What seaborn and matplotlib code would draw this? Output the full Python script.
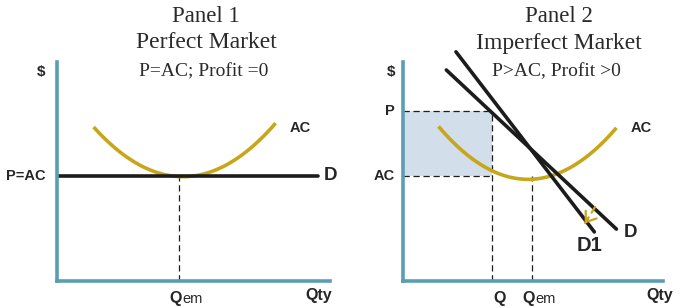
import seaborn as sns
import matplotlib.pyplot as plt
import matplotlib

matplotlib.use('Agg')
sns.set_theme(style='white')
plt.rcParams['font.family'] = ['Liberation Sans', 'DejaVu Sans']

# panel 1: perfect market (x = quantity, y = $)
p1_ac_q = [1.34, 2.4, 4.46, 6.5, 8.0]
p1_ac_cost = [7.17, 5.55, 4.88, 5.55, 7.17]
p1_d_q = [0.0, 9.55]
p1_d_price = [4.8, 4.8]
p1_qem = 4.46

# panel 2: imperfect market
p2_ac_q = [1.37, 2.6, 4.96, 7.0, 8.22]
p2_ac_cost = [7.12, 5.5, 4.79, 5.5, 7.03]
p2_d_q = [1.67, 8.22]
p2_d_price = [9.63, 2.37]
p2_d1_q = [2.04, 7.37]
p2_d1_price = [10.46, 2.24]
p2_price = 7.75
p2_cost = 4.79
p2_q = 3.41
p2_qem = 4.96
shift_from = (7.4, 3.38)
shift_to = (7.0, 2.62)

AXIS = '#5a9db4'
AC_COL = '#c8a61c'
D_COL = '#1c1c1c'
TXT = '#262626'
SHADE = '#d2dee9'
SERIF = ['Liberation Serif', 'DejaVu Serif']


def style_axes(ax, xmax):
    ax.set_xlim(0, xmax)
    ax.set_ylim(0, 11)
    for s in ['top', 'right']:
        ax.spines[s].set_visible(False)
    for s in ['left', 'bottom']:
        ax.spines[s].set_color(AXIS)
        ax.spines[s].set_linewidth(2.6)
    ax.spines['left'].set_bounds(0, 10)
    ax.spines['bottom'].set_bounds(0, 10)
    ax.set_xticks([])
    ax.set_yticks([])
    ax.set_xlabel('')
    ax.set_ylabel('')
    ax.patch.set_alpha(0)


def ac_curve(ax, q, c):
    sns.regplot(ax=ax, x=q, y=c, order=2, scatter=False, ci=None, truncate=True,
                line_kws=dict(color=AC_COL, lw=2.6, solid_capstyle='butt'))


def label(ax, x, y, s, size=10.5, **kw):
    ax.text(x, y, s, fontsize=size, fontweight='bold', color=TXT, **kw)


def qem_label(ax, x):
    ax.text(x + 0.12, -0.45, 'Q', ha='right', va='top', fontsize=11.5, fontweight='bold', color=TXT)
    ax.text(x + 0.12, -0.52, 'em', ha='left', va='top', fontsize=10.5, color=TXT)


def main():
    fig = plt.figure(figsize=(6.85, 3.08), dpi=100)
    ax1 = fig.add_axes([57 / 685, 27 / 308, 276 / 685, 241 / 308])
    ax2 = fig.add_axes([403 / 685, 27 / 308, 270 / 685, 241 / 308])
    dash = dict(color=D_COL, lw=0.9, ls=(0, (5, 3)))

    # ---- panel 1
    ax1.plot([p1_qem, p1_qem], [0, p1_d_price[0]], **dash)
    ac_curve(ax1, p1_ac_q, p1_ac_cost)
    sns.lineplot(ax=ax1, x=p1_d_q, y=p1_d_price, color=D_COL, lw=2.6)
    style_axes(ax1, 10.1)
    label(ax1, -0.43, p1_d_price[0], 'P=AC', ha='right', va='center')
    label(ax1, -0.43, 9.55, '$', 11, ha='right', va='center')
    label(ax1, 8.5, 7.0, 'AC', ha='left', va='center')
    label(ax1, 9.75, 4.8, 'D', 13.5, ha='left', va='center')
    label(ax1, 10.05, -0.3, 'Qty', 11.5, ha='right', va='top')
    qem_label(ax1, p1_qem)

    # ---- panel 2
    ax2.fill_between([0, p2_q], p2_cost, p2_price, color=SHADE, lw=0)
    ax2.plot([0, p2_q], [p2_price, p2_price], **dash)
    ax2.plot([0, p2_q], [p2_cost, p2_cost], **dash)
    ax2.plot([p2_q, p2_q], [0, p2_price], **dash)
    ax2.plot([p2_qem, p2_qem], [0, p2_cost], **dash)
    ac_curve(ax2, p2_ac_q, p2_ac_cost)
    sns.lineplot(ax=ax2, x=p2_d_q, y=p2_d_price, color=D_COL, lw=2.6)
    sns.lineplot(ax=ax2, x=p2_d1_q, y=p2_d1_price, color=D_COL, lw=2.6)
    for ln in ax2.lines:
        ln.set_clip_on(False)
    # demand shift arrow: dashed shaft + open head
    ax2.annotate('', xy=shift_to, xytext=shift_from,
                 arrowprops=dict(arrowstyle='-', color=AC_COL, lw=1.6, ls=(0, (3, 2.5)),
                                 shrinkA=0, shrinkB=0))
    ax2.annotate('', xy=shift_to, xytext=(shift_to[0] + 0.12, shift_to[1] + 0.2),
                 arrowprops=dict(arrowstyle='->,head_length=0.55,head_width=0.4', color=AC_COL,
                                 lw=1.6, shrinkA=0, shrinkB=0, mutation_scale=12))
    style_axes(ax2, 10.4)
    label(ax2, -0.3, p2_price, 'P', ha='right', va='center')
    label(ax2, -0.3, p2_cost, 'AC', ha='right', va='center')
    label(ax2, -0.3, 9.55, '$', 11, ha='right', va='center')
    label(ax2, 8.75, 7.0, 'AC', ha='left', va='center')
    label(ax2, 8.5, 2.2, 'D', 13.5, ha='left', va='center')
    label(ax2, 7.2, 1.6, 'D1', 14.5, ha='center', va='center')
    label(ax2, p2_q + 0.3, -0.45, 'Q', 11.5, ha='center', va='top')
    label(ax2, 10.4, -0.3, 'Qty', 11.5, ha='right', va='top')
    qem_label(ax2, p2_qem)

    # ---- titles
    for x, lines in [(0.301, ['Panel 1', 'Perfect Market', 'P=AC; Profit =0']),
                     (0.816, ['Panel 2', 'Imperfect Market', 'P>AC, Profit >0'])]:
        fig.text(x, 1 - 16 / 308, lines[0], ha='center', va='center', fontsize=16.5, family=SERIF, color='#2a2a2a')
        fig.text(x, 1 - 43 / 308, lines[1], ha='center', va='center', fontsize=17, family=SERIF, color='#2a2a2a')
        fig.text(x - 0.003, 1 - 72 / 308, lines[2], ha='center', va='center', fontsize=14, family=SERIF, color='#2a2a2a')

    plt.savefig('out.png', dpi=100)


if __name__ == '__main__':
    main()
